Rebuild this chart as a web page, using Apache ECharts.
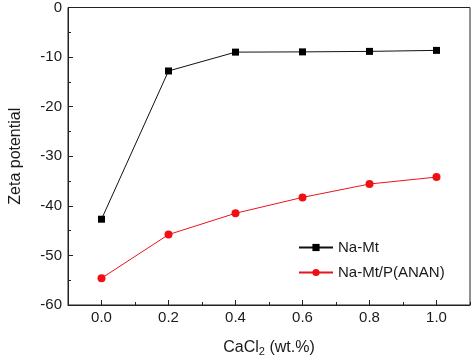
<!DOCTYPE html>
<html><head><meta charset="utf-8">
<script src="https://cdn.jsdelivr.net/npm/echarts@6/dist/echarts.min.js"></script>
<style>html,body{margin:0;padding:0;background:#fff}#c{width:474px;height:362px}</style>
</head><body><div id="c"></div>
<script>
const xValues = [0.0, 0.2, 0.4, 0.6, 0.8, 1.0];
const naMt = [-42.7, -12.8, -9.0, -8.95, -8.85, -8.65];
const naMtPANAN = [-54.6, -45.8, -41.5, -38.3, -35.6, -34.2];
const xTickLabels = [0.0, 0.2, 0.4, 0.6, 0.8, 1.0];
const seriesNames = ['Na-Mt', 'Na-Mt/P(ANAN)'];

const font = 'Arial, "Liberation Sans", Helvetica, sans-serif';
const txt = '#1a1a1a';
const chart = echarts.init(document.getElementById('c'));
chart.setOption({
  animation: false,
  grid: { left: 55, top: 7, right: 4, bottom: 49, show: true, borderColor: '#222', borderWidth: 1, backgroundColor: 'transparent' },
  legend: {
    orient: 'vertical', left: 293, top: 235, padding: 5, itemWidth: 34, itemHeight: 9, itemGap: 10,
    textStyle: { fontFamily: font, fontSize: 15, color: txt, padding: [0,0,0,0] },
    data: seriesNames
  },
  xAxis: [{
    type: 'value', min: -0.1, max: 1.1, interval: 0.1,
    axisLine: { onZero: false, lineStyle: { color: '#222', width: 1 } },
    axisTick: { inside: true, length: 3, lineStyle: { color: '#222' } },
    axisLabel: { show: false },
    splitLine: { show: false }
  }, {
    type: 'value', min: -0.1, max: 1.1, interval: 0.1, position: 'bottom',
    name: 'CaCl{sub|2} (wt.%)', nameLocation: 'middle', nameGap: 33,
    nameTextStyle: { fontFamily: font, fontSize: 16, color: txt,
      rich: { sub: { fontFamily: font, fontSize: 11, color: txt, verticalAlign: 'bottom', padding: [8,0,0,0] } } },
    axisLine: { show: false, onZero: false },
    axisTick: { inside: true, length: 5, customValues: xTickLabels, lineStyle: { color: '#222' } },
    axisLabel: { customValues: xTickLabels, margin: 5, fontFamily: font, fontSize: 15, color: txt, formatter: v => v.toFixed(1) },
    splitLine: { show: false }
  }],
  yAxis: {
    type: 'value', min: -60, max: 0, interval: 10,
    name: 'Zeta potential', nameLocation: 'middle', nameGap: 44,
    nameTextStyle: { fontFamily: font, fontSize: 16, color: txt },
    axisLine: { show: true, onZero: false, lineStyle: { color: '#222', width: 1 } },
    axisTick: { inside: true, length: 5, lineStyle: { color: '#222' } },
    minorTick: { show: true, splitNumber: 2, length: 3, lineStyle: { color: '#222' } },
    axisLabel: { margin: 6, fontFamily: font, fontSize: 15, color: txt },
    splitLine: { show: false }
  },
  series: [{
    name: seriesNames[0], type: 'line', xAxisIndex: 0,
    data: xValues.map((x, i) => [x, naMt[i]]),
    symbol: 'rect', symbolSize: 7,
    lineStyle: { color: '#111', width: 1 }, itemStyle: { color: '#000' }
  }, {
    name: seriesNames[1], type: 'line', xAxisIndex: 0,
    data: xValues.map((x, i) => [x, naMtPANAN[i]]),
    symbol: 'circle', symbolSize: 8,
    lineStyle: { color: '#e8141c', width: 1 }, itemStyle: { color: '#f20f14' }
  }]
});
</script></body></html>
